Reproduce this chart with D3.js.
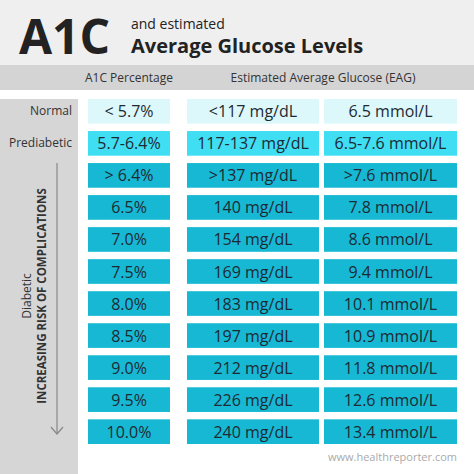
<!DOCTYPE html>
<html><head><meta charset="utf-8">
<script src="https://cdn.jsdelivr.net/npm/d3@7"></script>
<style>body{margin:0}svg{display:block;font-family:"Open Sans",sans-serif}</style>
</head><body><svg width="474" height="474"></svg>
<script>
const categories = ["Normal", "Prediabetic", "Diabetic", "Diabetic", "Diabetic", "Diabetic", "Diabetic", "Diabetic", "Diabetic", "Diabetic", "Diabetic"];
const a1c = ["< 5.7%", "5.7-6.4%", "> 6.4%", "6.5%", "7.0%", "7.5%", "8.0%", "8.5%", "9.0%", "9.5%", "10.0%"];
const mgdl = ["<117 mg/dL", "117-137 mg/dL", ">137 mg/dL", "140 mg/dL", "154 mg/dL", "169 mg/dL", "183 mg/dL", "197 mg/dL", "212 mg/dL", "226 mg/dL", "240 mg/dL"];
const mmol = ["6.5 mmol/L", "6.5-7.6 mmol/L", ">7.6 mmol/L", "7.8 mmol/L", "8.6 mmol/L", "9.4 mmol/L", "10.1 mmol/L", "10.9 mmol/L", "11.8 mmol/L", "12.6 mmol/L", "13.4 mmol/L"];

const svg = d3.select("svg");
const fill = {Normal: "#dcf8fb", Prediabetic: "#40def3", Diabetic: "#17b8d3"};

svg.append("rect").attr("width", 474).attr("height", 474).attr("fill", "#fff");
svg.append("rect").attr("width", 474).attr("height", 65).attr("fill", "#efefef");
svg.append("rect").attr("y", 65).attr("width", 474).attr("height", 25).attr("fill", "#d4d4d4");
svg.append("rect").attr("y", 99).attr("width", 78).attr("height", 375).attr("fill", "#d6d6d6");

svg.append("text").attr("x", 19).attr("y", 54).attr("font-size", 48).attr("font-weight", 700).attr("fill", "#222").text("A1C");
svg.append("text").attr("x", 131).attr("y", 29).attr("font-size", 14).attr("fill", "#222").text("and estimated");
svg.append("text").attr("x", 131).attr("y", 53).attr("font-size", 20).attr("font-weight", 700).attr("fill", "#222").text("Average Glucose Levels");
svg.append("text").attr("x", 129).attr("y", 82).attr("font-size", 12).attr("text-anchor", "middle").attr("fill", "#333").text("A1C Percentage");
svg.append("text").attr("x", 323).attr("y", 82).attr("font-size", 12).attr("text-anchor", "middle").attr("fill", "#333").text("Estimated Average Glucose (EAG)");

const y = d3.scaleBand().domain(d3.range(a1c.length)).range([99, 444]).paddingInner(0.23).paddingOuter(0);
const cols = [{x: 88, w: 82, v: a1c}, {x: 187, w: 132, v: mgdl}, {x: 324, w: 133, v: mmol}];

cols.forEach(c => {
  const g = svg.append("g");
  g.selectAll("rect").data(c.v).join("rect")
    .attr("x", c.x).attr("y", (d, i) => y(i)).attr("width", c.w).attr("height", y.bandwidth())
    .attr("fill", (d, i) => fill[categories[i]]);
  g.selectAll("text").data(c.v).join("text")
    .attr("x", c.x + c.w / 2).attr("y", (d, i) => y(i) + y.bandwidth() / 2 + 6)
    .attr("text-anchor", "middle").attr("font-size", 16).attr("fill", "#1e2a33").text(d => d);
});

[0, 1].forEach(i => {
  svg.append("text").attr("x", 72).attr("y", y(i) + y.bandwidth() / 2 + 4)
    .attr("text-anchor", "end").attr("font-size", 12).attr("fill", "#333").text(categories[i]);
});

svg.append("line").attr("x1", 57).attr("x2", 57).attr("y1", 163).attr("y2", 434).attr("stroke", "#888").attr("stroke-width", 1.2);
svg.append("path").attr("d", "M51,427 L57,434 L63,427").attr("fill", "none").attr("stroke", "#888").attr("stroke-width", 1.2);
svg.append("text").attr("transform", "translate(31,296) rotate(-90)").attr("font-size", 12).attr("fill", "#333").attr("text-anchor", "middle").text("Diabetic");
svg.append("text").attr("transform", "translate(46,296) rotate(-90)").attr("font-size", 11.5).attr("font-weight", 700).attr("fill", "#333").attr("text-anchor", "middle").text("INCREASING RISK OF COMPLICATIONS");

svg.append("text").attr("x", 457).attr("y", 461).attr("text-anchor", "end").attr("font-size", 11).attr("fill", "#aaa").text("www.healthreporter.com");
</script></body></html>
